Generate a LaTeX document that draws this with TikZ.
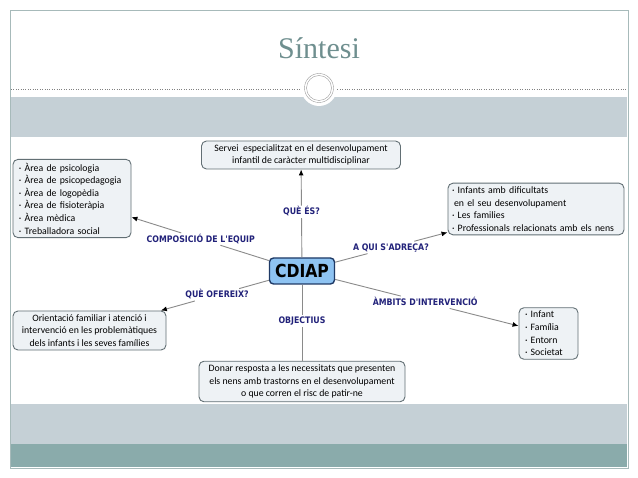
\documentclass[tikz,border=0pt]{standalone}
\usepackage{fontspec}
\setmainfont{Carlito}
\newfontfamily\titlefont{Liberation Serif}
\newfontfamily\lblfont[FakeStretch=0.87]{DejaVu Sans}
\usetikzlibrary{arrows.meta,calc,positioning}
\definecolor{framegray}{HTML}{A7BABA}
\definecolor{bandgray}{HTML}{C5D0D6}
\definecolor{bandteal}{HTML}{8AABAB}
\definecolor{titleteal}{HTML}{6F8F8F}
\definecolor{boxfill}{HTML}{EEF2F5}
\definecolor{boxline}{HTML}{626F74}
\definecolor{cdiapblue}{HTML}{8EC3F2}
\definecolor{cdiapline}{HTML}{1F3A66}
\definecolor{lblblue}{HTML}{22227A}
\definecolor{linkgray}{HTML}{8A8A8A}
\begin{document}
\begin{tikzpicture}[x=1pt,y=-1pt,
	infobox/.style={draw=boxline, fill=boxfill, line width=0.9pt, rounded corners=5pt, inner xsep=6pt, inner ysep=3.5pt, font=\fontsize{9.8}{12.6}\selectfont},
	hub/.style={draw=cdiapline, fill=cdiapblue, line width=1.4pt, rounded corners=4pt, minimum width=65pt, minimum height=26pt, font=\lblfont\bfseries\fontsize{18}{20}\selectfont},
	linklabel/.style={font=\lblfont\bfseries\fontsize{9}{10}\selectfont, text=lblblue, inner sep=2pt, text height=7pt, text depth=1pt},
	link/.style={draw=linkgray, line width=0.9pt},
	arrowlink/.style={link, -{Latex[length=6pt,width=5pt,color=black]}}]

		% slide background
		\useasboundingbox (0,0) rectangle (638,478);
		\fill[white] (0,0) rectangle (638,478);
		\fill[bandgray] (11,97) rectangle (627,137);
		\fill[bandgray] (11,404) rectangle (627,444);
		\fill[bandteal] (11,444) rectangle (627,467);
		\draw[framegray, line width=0.8pt] (10,10) rectangle (628,468);
		\draw[gray, dotted] (11,89) -- (627,89);
		\fill[white] (319,88) circle [radius=18];
		\draw[gray!80] (319,88) circle [radius=14.5];
		\draw[gray!80] (319,88) circle [radius=12.5];
		\node[font=\titlefont\fontsize{30}{32}\selectfont, text=titleteal] (title) at (319,48) {Síntesi};

		% concept boxes
		\node[hub] (cdiap) at (302,271) {CDIAP};
		\node[infobox, minimum width=199pt, align=center] (servei) at (301,155) {Servei\ \ especialitzat en el desenvolupament\\infantil de caràcter multidisciplinar};
		\node[infobox, text width=106pt, align=left] (equip) at (72,198.5) {·~Àrea de psicologia\\·~Àrea de psicopedagogia\\·~Àrea de logopèdia\\·~Àrea de fisioteràpia\\·~Àrea mèdica\\·~Treballadora social};
		\node[infobox, text width=168pt, inner xsep=4pt, align=left] (destinataris) at (536,209) {·~Infants amb dificultats\\\hspace{2pt}en el seu desenvolupament\\·~Les families\\·~Professionals relacionats amb els nens};
		\node[infobox, minimum width=153pt, align=center] (oferta) at (89.5,330.5) {Orientació familiar i atenció i\\intervenció en les problemàtiques\\dels infants i les seves famílies};
		\node[infobox, text width=47pt, align=left] (ambits) at (548.5,333.5) {·~Infant\\·~Família\\·~Entorn\\·~Societat};
		\node[infobox, minimum width=206pt, inner xsep=3pt, align=center] (objectius) at (302,381.5) {Donar resposta a les necessitats que presenten\\els nens amb trastorns en el desenvolupament\\o que corren el risc de patir-ne};

		% link labels
		\node[linklabel] (lques) at ($(cdiap)!0.51!(servei)$) {QUÈ ÉS?};
		\node[linklabel] (lcomp) at ($(cdiap)!0.44!(equip)$) {COMPOSICIÓ DE L'EQUIP};
		\node[linklabel] (ladreca) at ($(cdiap)!0.38!(destinataris)$) {A QUI S'ADREÇA?};
		\node[linklabel] (lofereix) at ($(cdiap)!0.40!(oferta)$) {QUÈ OFEREIX?};
		\node[linklabel] (lobj) at ($(cdiap)!0.45!(objectius)$) {OBJECTIUS};
		\node[linklabel] (lambits) at ($(cdiap)!0.50!(ambits)$) {ÀMBITS D'INTERVENCIÓ};

		% links
		\draw[link] (cdiap) -- (lques);
		\draw[arrowlink] (lques) -- (servei);
		\draw[link] (cdiap) -- (lcomp);
		\draw[arrowlink] (lcomp) -- (equip);
		\draw[link] (cdiap) -- (ladreca);
		\draw[arrowlink] (ladreca) -- (destinataris);
		\draw[link] (cdiap) -- (lofereix);
		\draw[arrowlink] (lofereix) -- (oferta);
		\draw[link] (cdiap) -- (lobj);
		\draw[link] (lobj) -- (objectius);
		\draw[link] (cdiap) -- (lambits);
		\draw[arrowlink] (lambits) -- (ambits);

	\end{tikzpicture}
\end{document}
